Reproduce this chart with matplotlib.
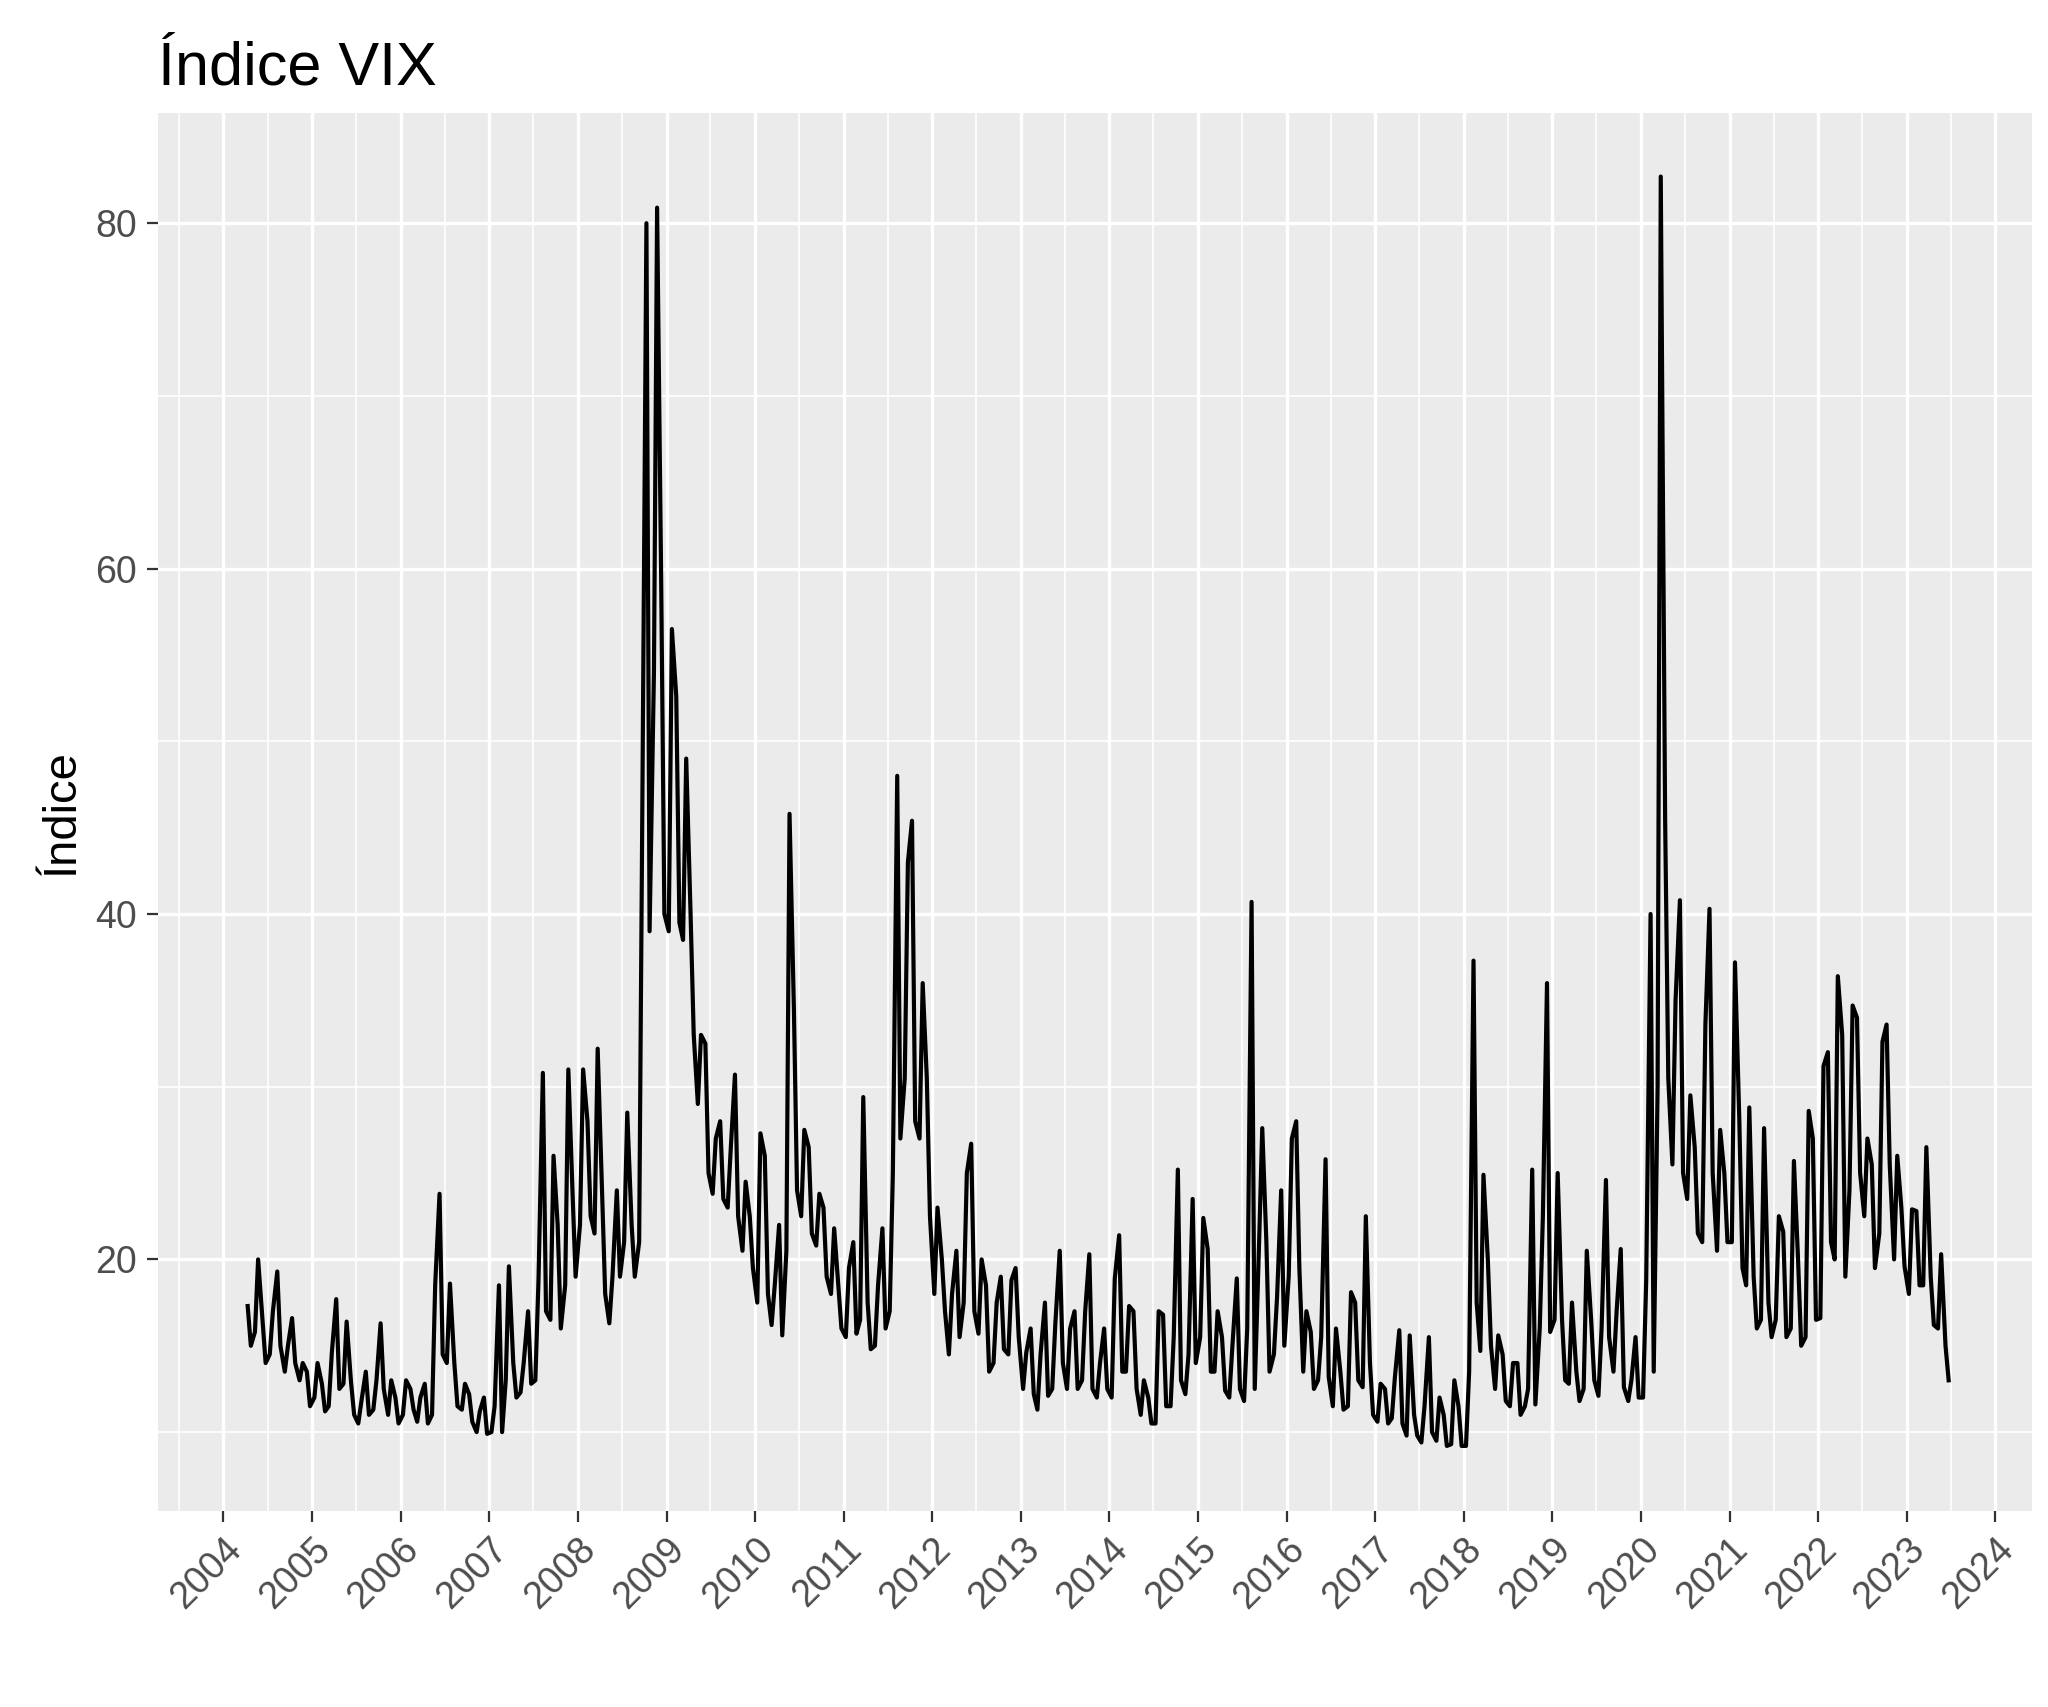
import numpy as np
import pandas as pd
import matplotlib
matplotlib.use("Agg")
import matplotlib.pyplot as plt
import matplotlib.dates as mdates

plt.rcParams['font.family'] = ['Liberation Sans', 'DejaVu Sans']

# monthly high / low readings of the VIX, Apr 2004 .. Jun 2023
start_month = "2004-04"
month_high = [
    # 2004 Apr-Dec
    17.3, 20.0, 16.5, 17.0, 19.3, 15.0, 16.6, 14.0, 13.5,
    # 2005
    14.0, 12.8, 14.6, 17.7, 16.4, 12.9, 11.8, 13.5, 13.0, 16.3, 13.0, 12.0,
    # 2006
    13.0, 12.5, 12.0, 12.8, 18.5, 23.8, 18.6, 14.0, 12.8, 12.2, 11.2, 12.0,
    # 2007
    11.5, 18.5, 19.6, 14.0, 14.0, 17.0, 18.8, 30.8, 26.0, 22.0, 31.0, 24.0,
    # 2008
    31.0, 28.0, 32.2, 24.0, 19.0, 24.0, 28.5, 22.0, 46.0, 80.0, 80.9, 59.0,
    # 2009
    56.5, 52.6, 49.0, 40.0, 33.0, 32.5, 27.0, 28.0, 26.5, 30.7, 24.5, 22.5,
    # 2010
    27.3, 26.0, 18.5, 22.0, 45.8, 34.5, 27.5, 26.5, 23.8, 23.0, 21.8, 18.5,
    # 2011
    19.5, 21.0, 29.4, 17.5, 18.5, 21.8, 25.0, 48.0, 43.0, 45.4, 36.0, 30.5,
    # 2012
    23.0, 20.0, 18.0, 20.5, 25.0, 26.7, 20.0, 18.5, 17.5, 19.0, 18.8, 19.5,
    # 2013
    14.6, 16.0, 14.5, 17.5, 16.3, 20.5, 16.0, 17.0, 17.0, 20.3, 14.0, 16.0,
    # 2014
    18.9, 21.4, 17.3, 17.0, 13.0, 12.0, 17.0, 16.8, 15.5, 25.2, 14.5, 23.5,
    # 2015
    22.4, 20.6, 17.0, 15.5, 15.0, 18.9, 16.0, 40.7, 27.6, 21.0, 17.8, 24.0,
    # 2016
    27.0, 28.0, 17.0, 15.8, 15.5, 25.8, 16.0, 13.5, 18.1, 17.5, 22.5, 14.0,
    # 2017
    12.8, 12.5, 13.2, 15.9, 15.6, 11.0, 11.5, 15.5, 12.0, 11.0, 13.0, 11.5,
    # 2018
    13.5, 37.3, 24.9, 20.0, 15.6, 14.5, 14.0, 14.0, 12.5, 25.2, 22.5, 36.0,
    # 2019
    25.0, 16.5, 17.5, 13.5, 20.5, 16.5, 16.0, 24.6, 17.0, 20.6, 13.0, 15.5,
    # 2020
    18.8, 40.0, 82.7, 45.5, 35.0, 40.8, 29.5, 26.5, 33.6, 40.3, 27.5, 25.0,
    # 2021
    37.2, 28.0, 28.8, 19.0, 27.6, 17.5, 22.5, 21.6, 25.7, 20.0, 28.6, 27.0,
    # 2022
    31.2, 32.0, 36.4, 33.0, 34.7, 34.0, 27.0, 25.5, 32.6, 33.6, 26.0, 23.0,
    # 2023
    22.9, 22.8, 26.5, 19.0, 20.3, 15.0,
]
month_low = [
    # 2004 Apr-Dec
    15.0, 15.8, 14.0, 14.5, 15.0, 13.5, 14.0, 13.0, 11.5,
    # 2005
    12.0, 11.2, 11.5, 12.5, 12.8, 11.0, 10.5, 11.0, 11.3, 12.5, 11.0, 10.5,
    # 2006
    11.0, 11.3, 10.6, 10.5, 11.0, 14.5, 14.0, 11.5, 11.3, 10.6, 10.0, 9.9,
    # 2007
    10.0, 10.0, 13.0, 12.0, 12.3, 12.8, 13.0, 17.0, 16.5, 16.0, 18.5, 19.0,
    # 2008
    22.0, 22.5, 21.5, 18.0, 16.3, 19.0, 21.0, 19.0, 21.0, 39.0, 54.0, 40.0,
    # 2009
    39.0, 39.5, 38.5, 33.0, 29.0, 25.0, 23.8, 23.5, 23.0, 22.5, 20.5, 19.5,
    # 2010
    17.5, 18.0, 16.2, 15.6, 20.5, 24.0, 22.5, 21.5, 20.8, 19.0, 18.0, 16.0,
    # 2011
    15.5, 15.7, 16.5, 14.8, 15.0, 16.0, 17.0, 27.0, 30.5, 28.0, 27.0, 22.5,
    # 2012
    18.0, 17.0, 14.5, 15.5, 17.5, 17.0, 15.7, 13.5, 14.0, 14.8, 14.5, 15.5,
    # 2013
    12.5, 12.2, 11.3, 12.1, 12.5, 14.0, 12.5, 12.5, 13.0, 12.5, 12.0, 12.5,
    # 2014
    12.0, 13.5, 13.5, 12.5, 11.0, 10.5, 10.5, 11.5, 11.5, 13.0, 12.2, 14.0,
    # 2015
    15.5, 13.5, 13.5, 12.4, 12.0, 12.5, 11.8, 12.5, 21.0, 13.5, 14.5, 15.0,
    # 2016
    19.0, 19.5, 13.5, 12.5, 13.0, 13.2, 11.5, 11.3, 11.5, 13.0, 12.6, 11.0,
    # 2017
    10.6, 10.5, 10.8, 10.5, 9.8, 9.8, 9.4, 10.0, 9.5, 9.2, 9.3, 9.2,
    # 2018
    9.2, 17.5, 14.7, 15.0, 12.5, 11.8, 11.5, 11.0, 11.5, 11.6, 16.0, 15.8,
    # 2019
    16.5, 13.0, 12.8, 11.8, 12.5, 13.0, 12.1, 15.5, 13.5, 12.6, 11.8, 12.0,
    # 2020
    12.0, 13.5, 30.0, 30.5, 25.5, 25.0, 23.5, 21.5, 21.0, 25.0, 20.5, 21.0,
    # 2021
    21.0, 19.5, 18.5, 16.0, 16.5, 15.5, 16.5, 15.5, 16.0, 15.0, 15.5, 16.5,
    # 2022
    16.6, 21.0, 20.0, 19.0, 24.0, 25.0, 22.5, 19.5, 21.5, 25.5, 20.0, 19.6,
    # 2023
    18.0, 18.5, 18.5, 16.2, 16.0, 13.0,
]

months = pd.period_range(start_month, periods=len(month_high), freq="M")
dates, values = [], []
for i, m in enumerate(months):
    base = m.to_timestamp()
    # alternate order so the line zigzags
    if i % 2 == 0:
        pairs = [(9, month_high[i]), (22, month_low[i])]
    else:
        pairs = [(9, month_low[i]), (22, month_high[i])]
    for d, v in pairs:
        dates.append(base + pd.Timedelta(days=d))
        values.append(v)
dates = pd.to_datetime(dates)

fig, ax = plt.subplots(figsize=(10.24, 8.535), dpi=200)
fig.subplots_adjust(left=0.077, right=0.992, top=0.934, bottom=0.115)
ax.set_facecolor("#EBEBEB")
ax.plot(dates, values, color="black", lw=1.5)

ax.xaxis.set_major_locator(mdates.YearLocator())
ax.xaxis.set_major_formatter(mdates.DateFormatter("%Y"))
ax.xaxis.set_minor_locator(mdates.MonthLocator(bymonth=7))
ax.set_yticks([20, 40, 60, 80])
ax.set_yticks([10, 30, 50, 70], minor=True)
ax.set_xlim(pd.Timestamp("2003-04-05"), pd.Timestamp("2024-05-30"))
ax.set_ylim(5.45, 86.4)

ax.grid(which="major", color="white", lw=1.2)
ax.grid(which="minor", color="white", lw=0.6)
ax.set_axisbelow(True)
for s in ax.spines.values():
    s.set_visible(False)
ax.tick_params(which="major", labelcolor="#4D4D4D", labelsize=13.5, length=4, color="#333333")
ax.tick_params(which="minor", length=0)
plt.setp(ax.get_xticklabels(), rotation=45, ha="right", rotation_mode="anchor")

ax.set_ylabel("Índice", fontsize=17)
ax.set_title("Índice VIX", fontsize=22, loc="left", x=0.0, pad=10)

fig.savefig("out.png", dpi=200)
